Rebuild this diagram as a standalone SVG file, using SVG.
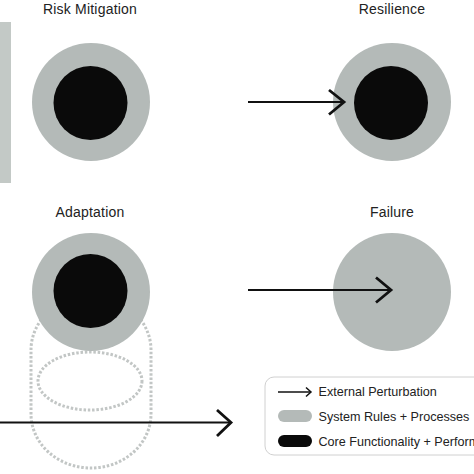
<svg xmlns="http://www.w3.org/2000/svg" width="474" height="474" viewBox="0 0 474 474">
<style>
.title{font-family:"Liberation Sans",Arial,sans-serif;font-size:14px;letter-spacing:0.2px;fill:#222;text-anchor:middle}
.leg{font-family:"Liberation Sans",Arial,sans-serif;font-size:12.6px;fill:#222}
.outer{fill:#b4bab8}
.core{fill:#0a0a0a}
.dot{fill:none;stroke:#c2c6c5;stroke-width:3;stroke-dasharray:2.5 1.8}
.arr{stroke:#111;stroke-width:1.8;fill:none}
.head{stroke:#111;stroke-width:2.8;fill:none;stroke-linejoin:miter}
</style>
<rect width="474" height="474" fill="#fff"/>
<rect id="bar" x="0" y="22" width="11" height="161" fill="#c3c9c6"/>
<g id="risk-mitigation">
<text class="title" x="90" y="13.5">Risk Mitigation</text>
<circle class="outer" cx="91" cy="102" r="59"/>
<circle class="core" cx="90.5" cy="103" r="37"/>
</g>
<g id="resilience">
<text class="title" x="392" y="13.5">Resilience</text>
<circle class="outer" cx="392" cy="102" r="59"/>
<circle class="core" cx="391" cy="103" r="37"/>
</g>
<g id="adaptation">
<text class="title" x="90" y="216.5">Adaptation</text>
<path class="dot" d="M31,350 A60,54 0 0 1 151,350 L151,414 A60,54 0 0 1 31,414 Z"/>
<ellipse class="dot" cx="90" cy="381" rx="52" ry="29"/>
<circle class="outer" cx="91" cy="292" r="59"/>
<circle class="core" cx="90.5" cy="291" r="37"/>
</g>
<g id="failure">
<text class="title" x="392" y="216.5">Failure</text>
<circle class="outer" cx="392" cy="292" r="59"/>
</g>
<g id="connectors">
<line class="arr" x1="248" y1="102" x2="343" y2="102"/>
<polyline class="head" points="329,90 344,102 329,114.5"/>
<line class="arr" x1="248" y1="290" x2="390" y2="290"/>
<polyline class="head" points="376,277.5 391,290 376,302.5"/>
<line class="arr" x1="0" y1="422.5" x2="230" y2="422.5"/>
<polyline class="head" points="217,410 231,422.5 217,436"/>
</g>
<g id="legend">
<rect x="265" y="377" width="230" height="78" rx="9" fill="#fff" stroke="#d0d0d0" stroke-width="1"/>
<line x1="278" y1="392" x2="310" y2="392" stroke="#111" stroke-width="1.5"/>
<polyline points="306,387.5 311,392 306,396.5" fill="none" stroke="#111" stroke-width="1.5"/>
<text class="leg" x="318.5" y="396">External Perturbation</text>
<rect x="278" y="410" width="34" height="12" rx="6" fill="#b4bab8"/>
<text class="leg" x="318.5" y="421">System Rules + Processes</text>
<rect x="278" y="435" width="34" height="12" rx="6" fill="#0a0a0a"/>
<text class="leg" x="318.5" y="446">Core Functionality + Performance</text>
</g>
</svg>
